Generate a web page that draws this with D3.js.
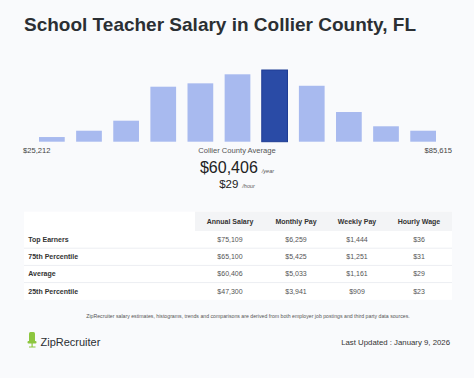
<!DOCTYPE html>
<html>
<head>
<meta charset="utf-8">
<script src="https://cdn.jsdelivr.net/npm/d3@7"></script>
<style>
  body { margin: 0; background: #f9fafc; font-family: "Liberation Sans", Arial, sans-serif; }
  svg { display: block; }
</style>
</head>
<body>
<div id="chart"></div>
<script>
// histogram bins (relative heights), avg bin highlighted
var bins = [6.5, 15.3, 29.3, 76.7, 81.4, 94, 100, 78, 41.4, 21.5, 15.3];
var highlight = 6;
var min_label = "$25,212", max_label = "$85,615";
var avg_year = "$60,406", avg_hour = "$29";

var columns = ["Annual Salary", "Monthly Pay", "Weekly Pay", "Hourly Wage"];
var row_names = ["Top Earners", "75th Percentile", "Average", "25th Percentile"];
var annual = ["$75,109", "$65,100", "$60,406", "$47,300"];
var monthly = ["$6,259", "$5,425", "$5,033", "$3,941"];
var weekly = ["$1,444", "$1,251", "$1,161", "$909"];
var hourly = ["$36", "$31", "$29", "$23"];

const W = 474, H = 378;

const svg = d3.select("#chart")
    .append("svg")
    .attr("width", W)
    .attr("height", H);

svg.append("rect")
    .attr("width", W).attr("height", H)
    .attr("fill", "#f9fafc");

svg.append("text")
    .attr("x", 24)
    .attr("y", 30.5)
    .attr("font-size", "19px")
    .attr("font-weight", "bold")
    .attr("fill", "#2b2f33")
    .text("School Teacher Salary in Collier County, FL");

// histogram
var xScale = d3.scaleBand()
    .domain(d3.range(bins.length))
    .range([39, 436])
    .paddingInner(0.307)
    .paddingOuter(0);

var yScale = d3.scaleLinear()
    .domain([0, 100])
    .range([141.7, 70]);

svg.selectAll("rect.bin")
    .data(bins)
    .enter()
    .append("rect")
    .attr("class", "bin")
    .attr("x", function (d, i) { return xScale(i); })
    .attr("y", function (d) { return yScale(d); })
    .attr("width", xScale.bandwidth())
    .attr("height", function (d) { return yScale(0) - yScale(d); })
    .style("fill", function (d, i) { return i === highlight ? "#2a4ba6" : "#a8baef"; })
    .style("stroke", function (d, i) { return i === highlight ? "#1f3d94" : "none"; })
    .style("stroke-width", "1px");

svg.append("text")
    .attr("x", 23).attr("y", 152.8)
    .attr("font-size", "7.6px").attr("fill", "#444")
    .text(min_label);

svg.append("text")
    .attr("x", 452).attr("y", 152.8)
    .attr("text-anchor", "end")
    .attr("font-size", "7.6px").attr("fill", "#444")
    .text(max_label);

svg.append("text")
    .attr("x", 237).attr("y", 152.8)
    .attr("text-anchor", "middle")
    .attr("font-size", "7.6px").attr("fill", "#555")
    .text("Collier County Average");

var big = svg.append("text")
    .attr("x", 237).attr("y", 172.5)
    .attr("text-anchor", "middle")
    .attr("fill", "#222");
big.append("tspan").attr("font-size", "16px").text(avg_year);
big.append("tspan").attr("font-size", "5.5px").attr("font-style", "italic").attr("fill", "#555").attr("dx", 4).text("/year");

var small = svg.append("text")
    .attr("x", 237).attr("y", 187.5)
    .attr("text-anchor", "middle")
    .attr("fill", "#222");
small.append("tspan").attr("font-size", "11.5px").text(avg_hour);
small.append("tspan").attr("font-size", "5.5px").attr("font-style", "italic").attr("fill", "#555").attr("dx", 4).text("/hour");

// table
var table = { left: 24, right: 452, headTop: 211.7, headBottom: 231, rowH: 17.2 };
var colX = [230, 296, 357, 419];

svg.append("rect")
    .attr("x", table.left).attr("y", table.headTop)
    .attr("width", table.right - table.left)
    .attr("height", table.headBottom - table.headTop + table.rowH * row_names.length)
    .attr("fill", "#ffffff");

svg.append("rect")
    .attr("x", 195).attr("y", table.headTop)
    .attr("width", table.right - 195)
    .attr("height", table.headBottom - table.headTop)
    .attr("fill", "#f3f4f6");

svg.selectAll("text.col-head")
    .data(columns)
    .enter()
    .append("text")
    .attr("class", "col-head")
    .attr("x", function (d, i) { return colX[i]; })
    .attr("y", 224)
    .attr("text-anchor", "middle")
    .attr("font-size", "7px")
    .attr("font-weight", "bold")
    .attr("fill", "#333")
    .text(function (d) { return d; });

var rows = row_names.map(function (name, i) {
    return { name: name, values: [annual[i], monthly[i], weekly[i], hourly[i]] };
});

var rowG = svg.selectAll("g.row")
    .data(rows)
    .enter()
    .append("g")
    .attr("class", "row")
    .attr("transform", function (d, i) {
        return "translate(0," + (table.headBottom + i * table.rowH) + ")";
    });

rowG.filter(function (d, i) { return i < rows.length - 1; })
    .append("line")
    .attr("x1", table.left).attr("x2", table.right)
    .attr("y1", table.rowH).attr("y2", table.rowH)
    .attr("stroke", "#eceef2")
    .attr("stroke-width", 1);

rowG.append("text")
    .attr("x", 28.3)
    .attr("y", 11)
    .attr("font-size", "7px")
    .attr("font-weight", "bold")
    .attr("fill", "#333")
    .text(function (d) { return d.name; });

rowG.selectAll("text.val")
    .data(function (d) { return d.values; })
    .enter()
    .append("text")
    .attr("class", "val")
    .attr("x", function (d, i) { return colX[i]; })
    .attr("y", 11)
    .attr("text-anchor", "middle")
    .attr("font-size", "7px")
    .attr("fill", "#555")
    .text(function (d) { return d; });

// footer
svg.append("text")
    .attr("x", 248).attr("y", 318)
    .attr("text-anchor", "middle")
    .attr("font-size", "5.2px")
    .attr("fill", "#555")
    .text("ZipRecruiter salary estimates, histograms, trends and comparisons are derived from both employer job postings and third party data sources.");

// logo chair
var logo = svg.append("g").attr("fill", "#8dc63f");
logo.append("rect").attr("x", 29).attr("y", 332).attr("width", 6).attr("height", 10).attr("rx", 1.5);
logo.append("rect").attr("x", 27.5).attr("y", 341).attr("width", 9).attr("height", 2.5).attr("rx", 1);
logo.append("rect").attr("x", 31.5).attr("y", 343).attr("width", 1.2).attr("height", 4);
logo.append("rect").attr("x", 29).attr("y", 346.5).attr("width", 6.5).attr("height", 1);

svg.append("text")
    .attr("x", 40.5).attr("y", 345.5)
    .attr("font-size", "11px")
    .attr("fill", "#2b2f33")
    .text("ZipRecruiter");

svg.append("text")
    .attr("x", 450).attr("y", 344.5)
    .attr("text-anchor", "end")
    .attr("font-size", "7.8px")
    .attr("fill", "#333")
    .text("Last Updated : January 9, 2026");
</script>
</body>
</html>
